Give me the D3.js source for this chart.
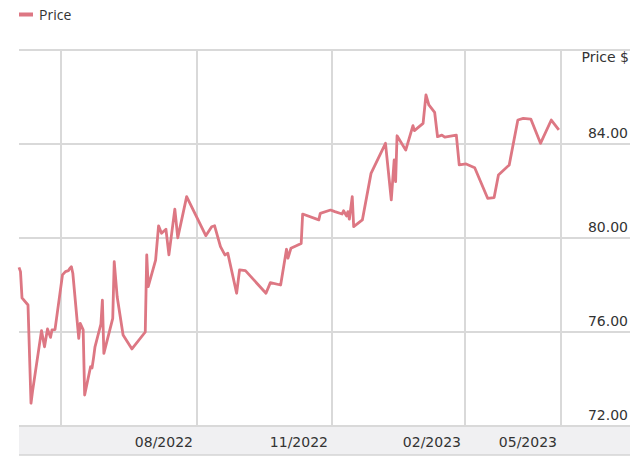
<!DOCTYPE html>
<html>
<head>
<meta charset="utf-8">
<script src="https://cdn.jsdelivr.net/npm/d3@7"></script>
<style>
    body { margin: 0; background: #ffffff; }
    svg { display: block; }
</style>
</head>
<body>
<div id="chart"></div>
<script>
// price samples
var dates = [
    '2022-04-03', '2022-04-04', '2022-04-05', '2022-04-09', '2022-04-11', '2022-04-12', '2022-04-18', '2022-04-20',
    '2022-04-22', '2022-04-24', '2022-04-25', '2022-04-27',
    '2022-05-02', '2022-05-04', '2022-05-06', '2022-05-07', '2022-05-08', '2022-05-09', '2022-05-13', '2022-05-14',
    '2022-05-16', '2022-05-17', '2022-05-21', '2022-05-22', '2022-05-23', '2022-05-24', '2022-05-28', '2022-05-29',
    '2022-05-30',
    '2022-06-05', '2022-06-06', '2022-06-08', '2022-06-12', '2022-06-18', '2022-06-27', '2022-06-28', '2022-06-29',
    '2022-07-04', '2022-07-06', '2022-07-08', '2022-07-11', '2022-07-13', '2022-07-17', '2022-07-19', '2022-07-25',
    '2022-08-07', '2022-08-11', '2022-08-13', '2022-08-17', '2022-08-20', '2022-08-22', '2022-08-28', '2022-08-30',
    '2022-09-03', '2022-09-17', '2022-09-20', '2022-09-27',
    '2022-10-01', '2022-10-02', '2022-10-04', '2022-10-11', '2022-10-12', '2022-10-23', '2022-10-24', '2022-10-31',
    '2022-11-03', '2022-11-08', '2022-11-09', '2022-11-11', '2022-11-12', '2022-11-13', '2022-11-15', '2022-11-16',
    '2022-11-22', '2022-11-28',
    '2022-12-08', '2022-12-12', '2022-12-14', '2022-12-15', '2022-12-16', '2022-12-22', '2022-12-27', '2022-12-28',
    '2023-01-03', '2023-01-05', '2023-01-07', '2023-01-11', '2023-01-13', '2023-01-16', '2023-01-18', '2023-01-26',
    '2023-01-28',
    '2023-02-02', '2023-02-10', '2023-02-22', '2023-02-28', '2023-03-04', '2023-03-14', '2023-03-22', '2023-03-27',
    '2023-04-03', '2023-04-12', '2023-04-22', '2023-04-29'
];

var prices = [
    78.75, 78.57, 77.45, 77.15, 72.97, 73.46, 76.06, 75.37, 76.13, 75.77, 76.09, 76.10,
    78.43, 78.57, 78.61, 78.71, 78.78, 78.50, 75.73, 76.37, 76.09, 73.32, 74.52, 74.47, 74.89, 75.37, 76.34, 77.36, 75.09,
    76.58, 78.99, 77.50, 75.87, 75.28, 76.00, 79.28, 77.93,
    79.06, 80.52, 80.20, 80.37, 79.28, 81.23, 80.01, 81.76,
    80.10, 80.48, 80.52, 79.63, 79.28, 79.35, 77.65, 78.64,
    78.61, 77.65, 78.10, 78.00,
    79.52, 79.14, 79.56, 79.77, 81.02, 80.77, 81.05, 81.19,
    81.12, 81.02, 81.16, 80.94, 81.12, 80.80, 81.76, 80.48, 80.77, 82.75,
    84.03, 81.62, 83.32, 82.40, 84.35, 83.74, 84.78, 84.57,
    84.88, 86.09, 85.66, 85.35, 84.31, 84.38, 84.29, 84.38, 83.11,
    83.15, 82.99, 81.69, 81.72, 82.68, 83.11, 85.02, 85.09,
    85.06, 84.03, 85.02, 84.60
];

// quarter marks on the time axis, and price gridlines
var xTickDates = ['2022-05-01', '2022-08-01', '2022-11-01', '2023-02-01', '2023-05-01'];
var yTickValues = [72, 76, 80, 84, 88];

var seriesName = 'Price';
var axisTitle = 'Price $';

(function() {
    var width = 640,
        height = 464,
        left = 19,
        right = 630,
        top = 50,
        bottom = 426,
        bandBottom = 455,
        lineColor = '#dd7783',
        gridColor = '#d9d9d9',
        textColor = '#333333';

    var parse = d3.timeParse('%Y-%m-%d'),
        fmtX = d3.timeFormat('%m/%Y'),
        fmtY = d3.format('.2f');

    var data = dates.map(function(d, i) {
        return { date: parse(d), price: prices[i] };
    });
    var ticks = xTickDates.map(parse);

    // the source axis is not evenly spaced in time, so map each quarter mark piecewise
    var x = d3.scaleTime()
        .domain([data[0].date].concat(ticks))
        .range([left, 61, 197, 332, 465, 561]);

    var y = d3.scaleLinear()
        .domain([72, 88])
        .range([bottom, top]);

    var svg = d3.select('#chart').append('svg')
        .attr('width', width)
        .attr('height', height);

    // legend
    svg.append('rect')
        .attr('x', 19).attr('y', 12.5)
        .attr('width', 14).attr('height', 4)
        .attr('fill', lineColor);

    svg.append('text')
        .attr('x', 39).attr('y', 20)
        .attr('font-family', 'Open Sans, sans-serif')
        .attr('font-size', '14px')
        .attr('fill', textColor)
        .text(seriesName);

    // bottom axis band
    svg.append('rect')
        .attr('x', left).attr('y', bottom)
        .attr('width', right - left).attr('height', bandBottom - bottom)
        .attr('fill', '#f0f0f2');

    svg.append('line')
        .attr('x1', left).attr('x2', right)
        .attr('y1', bandBottom).attr('y2', bandBottom)
        .attr('stroke', '#d4d4d4')
        .attr('stroke-width', 1.5);

    // vertical gridlines
    svg.append('g').selectAll('line')
        .data(ticks)
        .enter().append('line')
        .attr('x1', function(d) { return x(d); })
        .attr('x2', function(d) { return x(d); })
        .attr('y1', top)
        .attr('y2', bottom)
        .attr('stroke', gridColor)
        .attr('stroke-width', 2);

    // horizontal gridlines
    svg.append('g').selectAll('line')
        .data(yTickValues)
        .enter().append('line')
        .attr('x1', left)
        .attr('x2', right)
        .attr('y1', function(d) { return y(d); })
        .attr('y2', function(d) { return y(d); })
        .attr('stroke', gridColor)
        .attr('stroke-width', 2);

    // x labels sit just left of their gridline; skip the one that would fall off the plot
    svg.append('g').selectAll('text')
        .data(ticks.filter(function(d) { return x(d) - 64 > left; }))
        .enter().append('text')
        .attr('x', function(d) { return x(d) - 4; })
        .attr('y', 447)
        .attr('text-anchor', 'end')
        .attr('font-family', 'DejaVu Sans, Verdana, sans-serif')
        .attr('font-size', '14px')
        .attr('fill', textColor)
        .text(function(d) { return fmtX(d); });

    // y labels on the right, above each gridline (top one carries the axis title instead)
    svg.append('g').selectAll('text')
        .data(yTickValues.filter(function(d) { return d < y.domain()[1]; }))
        .enter().append('text')
        .attr('x', 628)
        .attr('y', function(d) { return y(d) - 6; })
        .attr('text-anchor', 'end')
        .attr('font-family', 'DejaVu Sans, Verdana, sans-serif')
        .attr('font-size', '14px')
        .attr('fill', textColor)
        .text(function(d) { return fmtY(d); });

    svg.append('text')
        .attr('x', 629).attr('y', 62)
        .attr('text-anchor', 'end')
        .attr('font-family', 'DejaVu Sans, Verdana, sans-serif')
        .attr('font-size', '14px')
        .attr('fill', textColor)
        .text(axisTitle);

    var line = d3.line()
        .x(function(d) { return x(d.date); })
        .y(function(d) { return y(d.price); });

    svg.append('path')
        .datum(data)
        .attr('d', line)
        .attr('fill', 'none')
        .attr('stroke', lineColor)
        .attr('stroke-width', 2.8)
        .attr('stroke-linejoin', 'round');
}());
</script>
</body>
</html>
